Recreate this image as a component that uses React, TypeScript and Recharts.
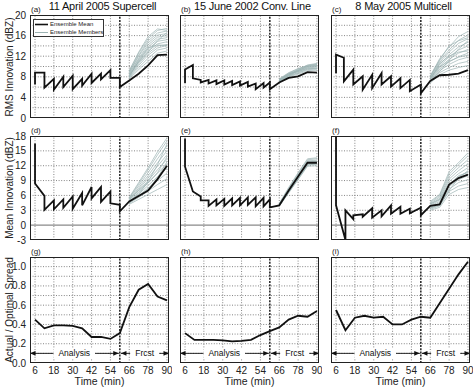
import React from 'react';
import { LineChart, Line, XAxis, YAxis, ReferenceLine } from 'recharts';

// ---------------- data ----------------
const timeTicks = [6, 18, 30, 42, 54, 66, 78, 90];
const forecastStart = 60;
const timeDomain: [number, number] = [2.8, 91.3];

const columnTitles = ['11 April 2005 Supercell', '15 June 2002 Conv. Line', '8 May 2005 Multicell'];
const rowLabels = ['RMS Innovation (dBZ)', 'Mean Innovation (dBZ)', 'Actual / Optimal Spread'];
const panelLetters = [
  ['(a)', '(b)', '(c)'],
  ['(d)', '(e)', '(f)'],
  ['(g)', '(h)', '(i)'],
];
const legendItems = ['Ensemble Mean', 'Ensemble Members'];

const rmsTicks = [0, 4, 8, 12, 16, 20];
const rmsGrid = [2, 4, 6, 8, 10, 12, 14, 16, 18];
const meanTicks = [-3, 0, 3, 6, 9, 12, 15, 18];
const meanGrid = [3, 6, 9, 12, 15];
const spreadTicks = [0, 0.2, 0.4, 0.6, 0.8, 1.0];
const spreadTickLabels = ['0.0', '0.2', '0.4', '0.6', '0.8', '1.0'];
const spreadGrid = [0.1, 0.2, 0.3, 0.4, 0.5, 0.6, 0.7, 0.8, 0.9, 1.0];

const memberTimes = [66, 72, 78, 84, 90];

// RMS innovation, ensemble mean (time, value)
const rmsMeanA = [[6,6.5],[6,8.8],[12,8.8],[12,5.9],[18,7.6],[18,5.5],[24,8.0],[24,6.0],[30,8.2],[30,5.6],[36,7.6],[36,6.3],[42,8.6],[42,6.8],[48,8.6],[48,7.5],[54,9.3],[54,7.8],[60,7.8],[60,6.0],[66,7.3],[72,8.6],[78,10.2],[84,12.2],[90,12.3]];
const rmsMeanB = [[6,6.8],[6,9.4],[11,10.3],[11,7.7],[16,7.4],[16,6.9],[21,7.4],[21,6.7],[26,7.3],[26,6.6],[31,7.3],[31,6.5],[36,7.2],[36,6.4],[41,7.1],[41,6.3],[46,7.0],[46,6.1],[51,6.7],[51,5.6],[56,6.8],[56,5.9],[60,6.9],[60,5.6],[66,6.9],[72,7.8],[78,8.1],[84,8.9],[90,8.8]];
const rmsMeanC = [[6,8.7],[6,12.3],[11,11.7],[11,7.1],[17,9.4],[17,6.5],[23,8.1],[23,5.5],[29,8.4],[29,5.8],[35,8.7],[35,6.5],[41,8.1],[41,6.1],[47,7.7],[47,5.8],[53,7.4],[53,5.2],[60,6.5],[60,4.8],[66,7.2],[72,8.3],[78,8.4],[84,8.6],[90,9.3]];

// RMS innovation, ensemble members at memberTimes
const rmsMembersA = [
  [7.6,9.4,11.0,12.6,13.0],[7.8,9.8,11.6,13.2,13.6],[7.9,10.2,12.2,13.6,14.1],[8.1,10.5,12.6,14.0,14.3],
  [8.2,10.9,13.0,14.4,14.8],[8.3,11.0,13.4,14.9,15.2],[8.5,11.4,13.8,15.3,15.6],[8.6,11.6,14.2,15.7,16.0],
  [8.8,12.0,14.6,16.1,16.4],[8.9,12.2,15.0,16.5,16.9],[9.1,12.6,15.4,17.0,17.4],[8.4,10.8,12.8,15.0,16.6],
  [8.0,11.2,13.6,14.2,14.0],[9.2,12.8,15.8,17.3,17.0],
];
const rmsMembersB = [
  [7.0,8.0,8.5,9.2,9.3],[7.1,8.1,8.7,9.4,9.5],[7.2,8.2,8.8,9.5,9.7],[7.2,8.3,9.0,9.7,9.9],
  [7.3,8.4,9.1,9.8,10.0],[7.4,8.5,9.2,9.9,10.2],[7.4,8.6,9.3,10.0,10.3],[7.5,8.7,9.5,10.1,10.4],
  [7.6,8.8,9.6,10.2,10.5],[7.1,8.2,9.2,10.1,10.1],[7.3,8.6,9.0,9.6,9.6],[7.5,8.4,9.4,10.3,10.6],
];
const rmsMembersC = [
  [6.8,8.4,9.3,9.8,10.2],[7.0,8.8,9.8,10.6,11.0],[7.1,9.2,10.4,11.3,11.8],[7.3,9.5,10.9,11.9,12.6],
  [7.4,9.8,11.4,12.6,13.3],[7.6,10.1,11.9,13.2,14.0],[7.7,10.4,12.3,13.8,14.7],[7.9,10.8,12.8,14.5,15.4],
  [8.0,11.1,13.2,15.1,16.1],[8.2,11.5,13.8,15.8,16.8],[7.5,10.6,12.0,12.8,13.0],[7.2,9.0,11.2,13.4,15.0],
  [7.8,10.0,11.0,11.8,12.2],[8.1,11.3,14.0,15.0,15.6],
];

// Mean innovation, ensemble mean
const meanInnovD = [[6,16.5],[6,8.4],[12,5.9],[12,3.1],[18,5.0],[18,3.2],[24,5.2],[24,3.5],[30,5.8],[30,3.3],[36,6.5],[36,4.0],[42,7.7],[42,5.4],[48,7.7],[48,4.7],[54,6.8],[54,4.4],[60,4.1],[60,2.8],[66,4.8],[72,5.9],[78,7.0],[84,9.3],[90,12.0]];
const meanInnovE = [[6,17.5],[6,11.8],[11,6.8],[16,5.8],[16,5.0],[21,5.0],[21,3.9],[26,5.2],[26,4.0],[31,5.3],[31,3.9],[36,5.4],[36,4.0],[41,5.5],[41,4.0],[46,5.6],[46,4.1],[51,5.6],[51,3.8],[56,5.5],[56,3.8],[60,5.2],[60,3.6],[66,4.0],[72,7.0],[78,9.8],[84,12.6],[90,12.6]];
const meanInnovF = [[6,17.8],[6,4.0],[12,-3.0],[12,3.0],[17,1.2],[17,2.0],[23,2.2],[23,1.7],[29,3.4],[29,1.5],[35,3.0],[35,1.8],[41,4.0],[41,2.3],[47,3.7],[47,2.3],[53,3.3],[53,2.4],[60,3.5],[60,2.0],[66,3.9],[72,4.2],[78,8.2],[84,9.5],[90,10.2]];

const meanMembersD = [
  [4.2,5.2,6.2,7.2,8.2],[4.4,5.6,6.9,8.2,9.4],[4.5,6.0,7.5,9.0,10.5],[4.7,6.3,8.0,9.8,11.5],
  [4.8,6.6,8.5,10.5,12.4],[5.0,6.9,9.0,11.2,13.3],[5.1,7.2,9.5,11.9,14.2],[5.2,7.5,10.0,12.6,15.0],
  [5.4,7.9,10.6,13.4,16.0],[5.5,8.3,11.2,14.2,17.0],[4.6,5.8,7.3,9.6,12.8],[5.3,7.0,8.6,10.6,13.8],
  [4.9,6.2,8.8,12.2,16.4],[5.6,8.6,11.6,14.8,17.6],
];
const meanMembersE = [
  [3.8,6.5,9.2,11.9,12.0],[3.9,6.7,9.4,12.2,12.3],[4.0,6.8,9.6,12.4,12.5],[4.0,6.9,9.8,12.6,12.7],
  [4.1,7.1,10.0,12.8,12.9],[4.2,7.2,10.2,13.0,13.1],[4.3,7.4,10.4,13.2,13.4],[4.4,7.6,10.6,13.4,13.6],
  [3.9,6.6,9.3,12.1,12.4],[4.2,7.3,10.1,12.7,12.8],
];
const meanMembersF = [
  [3.0,3.6,6.2,7.2,7.6],[3.2,3.9,6.8,7.9,8.4],[3.4,4.2,7.3,8.6,9.2],[3.6,4.5,7.8,9.2,10.0],
  [3.8,4.8,8.3,9.8,10.8],[4.0,5.1,8.8,10.4,11.6],[4.2,5.4,9.3,11.0,12.4],[4.4,5.7,9.8,11.6,13.2],
  [4.6,6.0,10.3,12.2,14.0],[4.8,6.2,10.8,12.6,14.6],[3.5,4.0,7.0,9.5,11.0],[4.3,5.2,8.0,10.0,10.6],
];

// Actual / optimal spread
const spreadTimes = [6, 12, 18, 24, 30, 36, 42, 48, 54, 60, 66, 72, 78, 84, 90];
const spreadG = [0.45, 0.36, 0.39, 0.39, 0.385, 0.36, 0.27, 0.27, 0.25, 0.31, 0.58, 0.76, 0.82, 0.69, 0.65];
const spreadH = [0.31, 0.24, 0.24, 0.24, 0.235, 0.225, 0.23, 0.24, 0.29, 0.33, 0.37, 0.45, 0.49, 0.48, 0.54];
const spreadI = [0.55, 0.34, 0.47, 0.49, 0.47, 0.48, 0.40, 0.40, 0.45, 0.48, 0.47, 0.62, 0.77, 0.92, 1.05];

// period annotations (time positions, value level)
const periodLevel = 0.1;
const analysisArrow = [
  { t: 2.8, kind: 'left' },
  { t: 31, kind: 'label', text: 'Analysis' },
  { t: 59.3, kind: 'right' },
];
const forecastArrow = [
  { t: 60.7, kind: 'left' },
  { t: 75.8, kind: 'label', text: 'Frcst' },
  { t: 91.3, kind: 'right' },
];

// ---------------- helpers ----------------
type Pt = { t: number; v: number };
const pairs = (a: number[][]): Pt[] => a.map(([t, v]) => ({ t, v }));
const members = (rows: number[][]): Pt[][] => rows.map((r) => r.map((v, i) => ({ t: memberTimes[i], v })));
const series = (vals: number[]): Pt[] => vals.map((v, i) => ({ t: spreadTimes[i], v }));
const arrowData = (a: any[]) => a.map((d) => ({ ...d, v: periodLevel }));

const FONT = '"Liberation Sans", Arial, sans-serif';
const COL_LEFT = [30, 180, 331];
const PLOT_W = 139;
const ROWS = [
  { top: 15, h: 103 },
  { top: 136, h: 104 },
  { top: 257, h: 106 },
];
const ML = 28;
const MT = 7;
const MR = 3;
const MB = 7;
const XH = 16;
const MEMBER_COLOR = '#9cb3b3';
const GRID_COLOR = '#666';

const arrowDot = (p: any) => {
  const { cx, cy, payload, index } = p;
  if (cx == null || cy == null) return <g key={`n${index}`} />;
  if (payload.kind === 'left')
    return <path key={`a${index}`} d={`M${cx},${cy} l5.5,-2.3 l0,4.6 z`} fill="#111" />;
  if (payload.kind === 'right')
    return <path key={`a${index}`} d={`M${cx},${cy} l-5.5,-2.3 l0,4.6 z`} fill="#111" />;
  const w = payload.text.length * 4.2 + 8;
  return (
    <g key={`a${index}`}>
      <rect x={cx - w / 2} y={cy - 5} width={w} height={10} fill="#fff" />
      <text x={cx} y={cy + 3} textAnchor="middle" fontSize={8.5} fill="#111" fontFamily={FONT}>
        {payload.text}
      </text>
    </g>
  );
};

type PanelProps = {
  col: number;
  row: number;
  yDomain: [number, number];
  yTicks: number[];
  yTickFmt?: (v: number) => string;
  grid: number[];
  zero?: boolean;
  mean: Pt[];
  ens?: Pt[][];
  arrows?: boolean;
};

function Panel({ col, row, yDomain, yTicks, yTickFmt, grid, zero, mean, ens, arrows }: PanelProps) {
  const left = COL_LEFT[col];
  const { top, h } = ROWS[row];
  const showX = row === 2;
  const showY = col === 0;
  const width = ML + PLOT_W + MR;
  const height = MT + h + (showX ? XH : MB);
  return (
    <>
      <div style={{ position: 'absolute', left: left - ML, top: top - MT }}>
        <LineChart width={width} height={height} margin={{ top: MT, right: MR, left: 0, bottom: showX ? 0 : MB }}>
          <XAxis
            type="number"
            dataKey="t"
            domain={timeDomain}
            ticks={timeTicks}
            allowDataOverflow
            hide={!showX}
            height={XH}
            axisLine={false}
            tickLine={false}
            tickSize={1}
            tickMargin={3}
            interval={0}
            tick={{ fontSize: 10, fill: '#222', fontFamily: FONT }}
          />
          <YAxis
            type="number"
            dataKey="v"
            domain={yDomain}
            ticks={yTicks}
            allowDataOverflow
            width={ML}
            axisLine={false}
            tickLine={false}
            tickSize={1}
            tickMargin={3}
            interval={0}
            tickFormatter={yTickFmt}
            tick={showY ? { fontSize: 10, fill: '#222', fontFamily: FONT } : false}
          />
          {grid.map((g) => (
            <ReferenceLine key={`gy${g}`} y={g} stroke={GRID_COLOR} strokeDasharray="1 1.6" strokeWidth={0.8} />
          ))}
          {zero && <ReferenceLine y={0} stroke="#8a8a8a" strokeWidth={1.3} />}
          {timeTicks.map((t) => (
            <ReferenceLine key={`gx${t}`} x={t} stroke={GRID_COLOR} strokeDasharray="1 1.6" strokeWidth={0.8} />
          ))}
          <ReferenceLine x={forecastStart} stroke="#111" strokeDasharray="2 1.2" strokeWidth={1.4} />
          {(ens || []).map((m, i) => (
            <Line
              key={`m${i}`}
              data={m}
              dataKey="v"
              type="linear"
              stroke={MEMBER_COLOR}
              strokeWidth={0.7}
              dot={false}
              isAnimationActive={false}
            />
          ))}
          <Line data={mean} dataKey="v" type="linear" stroke="#111" strokeWidth={1.8} dot={false} isAnimationActive={false} />
          {arrows && (
            <Line data={arrowData(analysisArrow)} dataKey="v" stroke="#111" strokeWidth={0.9} dot={arrowDot} isAnimationActive={false} />
          )}
          {arrows && (
            <Line data={arrowData(forecastArrow)} dataKey="v" stroke="#111" strokeWidth={0.9} dot={arrowDot} isAnimationActive={false} />
          )}
        </LineChart>
      </div>
      <div
        style={{
          position: 'absolute',
          left: left,
          top: top,
          width: PLOT_W,
          height: h,
          border: '1px solid #222',
          boxSizing: 'border-box',
          pointerEvents: 'none',
        }}
      />
      <div
        style={{
          position: 'absolute',
          left: left + 1,
          top: top - 10,
          fontSize: 8,
          color: '#222',
          lineHeight: '9px',
        }}
      >
        {panelLetters[row][col]}
      </div>
    </>
  );
}

function LegendBox() {
  return (
    <div
      style={{
        position: 'absolute',
        left: 33,
        top: 19,
        width: 71,
        height: 18,
        border: '1px solid #333',
        background: '#fff',
        boxSizing: 'border-box',
        fontSize: 6,
        color: '#222',
        lineHeight: '7px',
        padding: '1px 1px',
        whiteSpace: 'nowrap',
      }}
    >
      {legendItems.map((label, i) => (
        <div key={label} style={{ display: 'flex', alignItems: 'center', height: 7.5 }}>
          <svg width={13} height={7} style={{ marginRight: 2, flex: 'none' }}>
            <line x1={0} x2={13} y1={3.5} y2={3.5} stroke={i === 0 ? '#111' : MEMBER_COLOR} strokeWidth={i === 0 ? 1.6 : 1} />
          </svg>
          <span>{label}</span>
        </div>
      ))}
    </div>
  );
}

export default function App() {
  const spreadFmt = (v: number) => spreadTickLabels[spreadTicks.indexOf(v)] ?? String(v);
  return (
    <div
      style={{
        position: 'absolute',
        left: 0,
        top: 0,
        width: 474,
        height: 387,
        background: '#fff',
        fontFamily: FONT,
        overflow: 'hidden',
      }}
    >
      {/* row 1: RMS innovation */}
      <Panel col={0} row={0} yDomain={[0, 20]} yTicks={rmsTicks} grid={rmsGrid} mean={pairs(rmsMeanA)} ens={members(rmsMembersA)} />
      <Panel col={1} row={0} yDomain={[0, 20]} yTicks={rmsTicks} grid={rmsGrid} mean={pairs(rmsMeanB)} ens={members(rmsMembersB)} />
      <Panel col={2} row={0} yDomain={[0, 20]} yTicks={rmsTicks} grid={rmsGrid} mean={pairs(rmsMeanC)} ens={members(rmsMembersC)} />
      {/* row 2: mean innovation */}
      <Panel col={0} row={1} yDomain={[-3, 18]} yTicks={meanTicks} grid={meanGrid} zero mean={pairs(meanInnovD)} ens={members(meanMembersD)} />
      <Panel col={1} row={1} yDomain={[-3, 18]} yTicks={meanTicks} grid={meanGrid} zero mean={pairs(meanInnovE)} ens={members(meanMembersE)} />
      <Panel col={2} row={1} yDomain={[-3, 18]} yTicks={meanTicks} grid={meanGrid} zero mean={pairs(meanInnovF)} ens={members(meanMembersF)} />
      {/* row 3: spread ratio */}
      <Panel col={0} row={2} yDomain={[0, 1.1]} yTicks={spreadTicks} yTickFmt={spreadFmt} grid={spreadGrid} mean={series(spreadG)} arrows />
      <Panel col={1} row={2} yDomain={[0, 1.1]} yTicks={spreadTicks} yTickFmt={spreadFmt} grid={spreadGrid} mean={series(spreadH)} arrows />
      <Panel col={2} row={2} yDomain={[0, 1.1]} yTicks={spreadTicks} yTickFmt={spreadFmt} grid={spreadGrid} mean={series(spreadI)} arrows />

      <LegendBox />

      {columnTitles.map((t, i) => (
        <div
          key={t}
          style={{
            position: 'absolute',
            left: COL_LEFT[i] + 6,
            width: PLOT_W - 6,
            top: 0,
            textAlign: 'center',
            fontSize: 11,
            lineHeight: '13px',
            color: '#111',
            whiteSpace: 'nowrap',
            letterSpacing: -0.2,
          }}
        >
          {t}
        </div>
      ))}
      {rowLabels.map((t, i) => (
        <div
          key={t}
          style={{
            position: 'absolute',
            left: 9,
            top: ROWS[i].top + ROWS[i].h / 2,
            transform: 'translate(-50%, -50%) rotate(-90deg)',
            fontSize: 10,
            color: '#222',
            whiteSpace: 'nowrap',
          }}
        >
          {t}
        </div>
      ))}
      {COL_LEFT.map((l, i) => (
        <div
          key={`tl${i}`}
          style={{
            position: 'absolute',
            left: l,
            width: PLOT_W,
            top: 375,
            textAlign: 'center',
            fontSize: 10.5,
            lineHeight: '12px',
            color: '#222',
          }}
        >
          Time (min)
        </div>
      ))}
    </div>
  );
}
